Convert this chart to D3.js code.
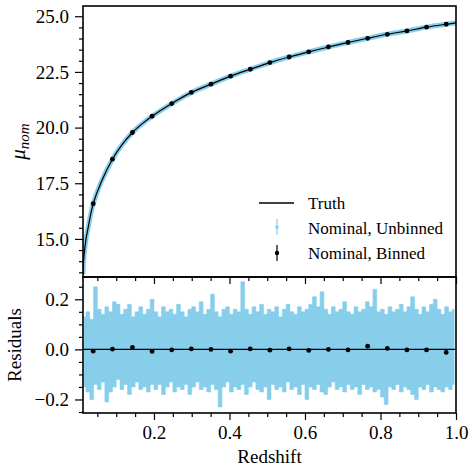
<!DOCTYPE html>
<html>
<head>
<meta charset="utf-8">
<script src="https://cdn.jsdelivr.net/npm/d3@7"></script>
<style>
  body { margin: 0; background: #fff; }
  text { font-family: "Liberation Serif", "DejaVu Serif", serif; fill: #000; }
</style>
</head>
<body>
<div id="chart"></div>
<script>
// truth curve
const truthZ  = [0.012, 0.0137, 0.02, 0.025, 0.03, 0.039, 0.06, 0.09, 0.115, 0.143, 0.17, 0.195, 0.247, 0.299, 0.351, 0.403, 0.455, 0.507, 0.558, 0.61, 0.662, 0.714, 0.766, 0.818, 0.87, 0.922, 0.974, 1.0];
const truthMu = [13.4, 14.05, 15.0, 15.45, 15.9, 16.58, 17.55, 18.58, 19.22, 19.78, 20.19, 20.51, 21.08, 21.58, 21.95, 22.31, 22.62, 22.92, 23.17, 23.40, 23.62, 23.82, 24.01, 24.19, 24.34, 24.51, 24.64, 24.7];

// binned points
const binZ   = [0.039, 0.09, 0.143, 0.195, 0.247, 0.299, 0.351, 0.403, 0.455, 0.507, 0.558, 0.61, 0.662, 0.714, 0.766, 0.818, 0.87, 0.922, 0.974];
const binMu  = [16.58, 18.58, 19.78, 20.51, 21.08, 21.58, 21.95, 22.31, 22.62, 22.92, 23.17, 23.40, 23.62, 23.82, 24.01, 24.19, 24.34, 24.51, 24.64];
const binRes = [-0.007, 0.001, 0.008, -0.008, -0.002, 0.002, 0.0, -0.007, 0.002, -0.003, 0.002, -0.004, 0.0, -0.002, 0.013, 0.004, -0.002, -0.002, -0.012];
const binErr = [0.004, 0.004, 0.004, 0.004, 0.004, 0.004, 0.004, 0.004, 0.004, 0.004, 0.004, 0.004, 0.004, 0.004, 0.004, 0.004, 0.004, 0.004, 0.004];

// unbinned residual error bars, upper / lower tips read along the band
const unbZ  = [0.015, 0.025, 0.035, 0.045, 0.055, 0.065, 0.075, 0.085, 0.095, 0.105, 0.115, 0.125, 0.135, 0.145, 0.155, 0.165, 0.175, 0.185, 0.195, 0.205,
               0.215, 0.225, 0.235, 0.245, 0.255, 0.265, 0.275, 0.285, 0.295, 0.305, 0.315, 0.325, 0.335, 0.345, 0.355, 0.365, 0.375, 0.385, 0.395, 0.405,
               0.415, 0.425, 0.435, 0.445, 0.455, 0.465, 0.475, 0.485, 0.495, 0.505, 0.515, 0.525, 0.535, 0.545, 0.555, 0.565, 0.575, 0.585, 0.595, 0.605,
               0.615, 0.625, 0.635, 0.645, 0.655, 0.665, 0.675, 0.685, 0.695, 0.705, 0.715, 0.725, 0.735, 0.745, 0.755, 0.765, 0.775, 0.785, 0.795, 0.805,
               0.815, 0.825, 0.835, 0.845, 0.855, 0.865, 0.875, 0.885, 0.895, 0.905, 0.915, 0.925, 0.935, 0.945, 0.955, 0.965, 0.975, 0.985, 0.995];
const unbHi = [0.13, 0.15, 0.12, 0.25, 0.16, 0.14, 0.17, 0.15, 0.19, 0.18, 0.14, 0.16, 0.18, 0.13, 0.15, 0.17, 0.14, 0.16, 0.20, 0.15,
               0.13, 0.17, 0.15, 0.16, 0.14, 0.18, 0.15, 0.13, 0.16, 0.17, 0.15, 0.19, 0.14, 0.16, 0.22, 0.15, 0.13, 0.16, 0.17, 0.14,
               0.16, 0.15, 0.27, 0.16, 0.14, 0.17, 0.15, 0.18, 0.14, 0.16, 0.15, 0.17, 0.13, 0.16, 0.18, 0.15, 0.14, 0.17, 0.15, 0.16,
               0.18, 0.21, 0.17, 0.23, 0.16, 0.14, 0.17, 0.15, 0.16, 0.19, 0.15, 0.14, 0.17, 0.15, 0.16, 0.19, 0.17, 0.24, 0.15, 0.16,
               0.14, 0.17, 0.15, 0.16, 0.18, 0.15, 0.17, 0.21, 0.16, 0.14, 0.17, 0.15, 0.18, 0.20, 0.16, 0.14, 0.17, 0.15, 0.16];
const unbLo = [-0.15, -0.17, -0.20, -0.14, -0.16, -0.13, -0.21, -0.17, -0.15, -0.12, -0.16, -0.14, -0.18, -0.15, -0.13, -0.16, -0.15, -0.17, -0.14, -0.16,
               -0.14, -0.18, -0.15, -0.13, -0.17, -0.15, -0.16, -0.14, -0.18, -0.15, -0.13, -0.16, -0.15, -0.17, -0.14, -0.16, -0.23, -0.15, -0.13, -0.17,
               -0.15, -0.16, -0.14, -0.18, -0.15, -0.13, -0.16, -0.17, -0.15, -0.20, -0.14, -0.16, -0.15, -0.17, -0.13, -0.16, -0.15, -0.18, -0.14, -0.20,
               -0.15, -0.16, -0.14, -0.17, -0.18, -0.15, -0.13, -0.16, -0.15, -0.17, -0.14, -0.16, -0.15, -0.18, -0.14, -0.16, -0.15, -0.17, -0.16, -0.19,
               -0.22, -0.15, -0.16, -0.14, -0.17, -0.15, -0.16, -0.18, -0.20, -0.15, -0.16, -0.14, -0.17, -0.15, -0.16, -0.17, -0.15, -0.16, -0.14];

const xTicks = [0.2, 0.4, 0.6, 0.8, 1.0];
const muTicks = [15.0, 17.5, 20.0, 22.5, 25.0];
const resTicks = [-0.2, 0.0, 0.2];

const W = 474, H = 474;
const pL = 83, pR = 456, pT = 6, pM = 277, pB = 413;
const blue = "#87CEEB";

const svg = d3.select("#chart").append("svg")
  .attr("width", W).attr("height", H);

const x = d3.scaleLinear().domain([0.012, 1.0]).range([pL, pR]);
const yTop = d3.scaleLinear().domain([13.29, 25.46]).range([pM, pT]);
const yBot = d3.scaleLinear().domain([-0.254, 0.289]).range([pB, pM]);

const defs = svg.append("defs");
defs.append("clipPath").attr("id", "clipTop").append("rect")
  .attr("x", pL).attr("y", pT).attr("width", pR - pL).attr("height", pM - pT);
defs.append("clipPath").attr("id", "clipBot").append("rect")
  .attr("x", pL).attr("y", pM).attr("width", pR - pL).attr("height", pB - pM);

const truth = truthZ.map((z, i) => ({ z: z, mu: truthMu[i] }));
const bins = binZ.map((z, i) => ({ z: z, mu: binMu[i], r: binRes[i], e: binErr[i] }));
const unb = unbZ.map((z, i) => ({ z: z, hi: unbHi[i], lo: unbLo[i] }));

// ---- top panel
const gTop = svg.append("g").attr("clip-path", "url(#clipTop)");
const truthLine = d3.line().x(d => x(d.z)).y(d => yTop(d.mu)).curve(d3.curveCatmullRom.alpha(0.5));

// unbinned points hug the truth curve
gTop.append("path").datum(truth)
  .attr("d", truthLine)
  .attr("fill", "none").attr("stroke", blue).attr("stroke-width", 5);

gTop.append("path").datum(truth)
  .attr("d", truthLine)
  .attr("fill", "none").attr("stroke", "#000").attr("stroke-width", 1.2);

gTop.selectAll(".bintop").data(bins).enter().append("circle")
  .attr("class", "bintop")
  .attr("cx", d => x(d.z)).attr("cy", d => yTop(d.mu)).attr("r", 2.4).attr("fill", "#000");

// ---- bottom panel
const gBot = svg.append("g").attr("clip-path", "url(#clipBot)");
const band = d3.area()
  .x(d => x(d.z)).y0(d => yBot(d.lo)).y1(d => yBot(d.hi))
  .curve(d3.curveStep);
gBot.append("path").datum(unb)
  .attr("d", band)
  .attr("fill", blue).attr("stroke", blue).attr("stroke-width", 0.6);

gBot.append("line")
  .attr("x1", pL).attr("x2", pR)
  .attr("y1", yBot(0)).attr("y2", yBot(0))
  .attr("stroke", "#000").attr("stroke-width", 1.2);

gBot.selectAll(".binerr").data(bins).enter().append("line")
  .attr("x1", d => x(d.z)).attr("x2", d => x(d.z))
  .attr("y1", d => yBot(d.r - d.e)).attr("y2", d => yBot(d.r + d.e))
  .attr("stroke", "#000").attr("stroke-width", 1.2);

gBot.selectAll(".binbot").data(bins).enter().append("circle")
  .attr("class", "binbot")
  .attr("cx", d => x(d.z)).attr("cy", d => yBot(d.r)).attr("r", 2.4).attr("fill", "#000");

// ---- axes
function styleAxis(g) {
  g.select(".domain").remove();
  g.selectAll(".tick line").attr("stroke", "#000").attr("stroke-width", 1.2);
  g.selectAll(".tick text").style("font-size", "19px");
}
const minorX = d3.range(0.05, 1.0001, 0.05).filter(v => Math.abs(v * 5 - Math.round(v * 5)) > 1e-6);

// top panel x ticks (no labels)
svg.append("g").attr("transform", `translate(0,${pM})`)
  .call(d3.axisBottom(x).tickValues(xTicks).tickSize(7).tickFormat(""))
  .call(styleAxis);
svg.append("g").attr("transform", `translate(0,${pM})`)
  .call(d3.axisBottom(x).tickValues(minorX).tickSize(4).tickFormat(""))
  .call(styleAxis);

// bottom x axis
svg.append("g").attr("transform", `translate(0,${pB})`)
  .call(d3.axisBottom(x).tickValues(xTicks).tickSize(7).tickPadding(6).tickFormat(d3.format(".1f")))
  .call(styleAxis);
svg.append("g").attr("transform", `translate(0,${pB})`)
  .call(d3.axisBottom(x).tickValues(minorX).tickSize(4).tickFormat(""))
  .call(styleAxis);

// top y axis
const minorMu = d3.range(13.5, 25.46, 0.5).filter(v => Math.abs(v / 2.5 - Math.round(v / 2.5)) > 1e-6);
svg.append("g").attr("transform", `translate(${pL},0)`)
  .call(d3.axisLeft(yTop).tickValues(muTicks).tickSize(8).tickPadding(6).tickFormat(d3.format(".1f")))
  .call(styleAxis);
svg.append("g").attr("transform", `translate(${pL},0)`)
  .call(d3.axisLeft(yTop).tickValues(minorMu).tickSize(4).tickFormat(""))
  .call(styleAxis);

// bottom y axis
const minorRes = [-0.25, -0.15, -0.1, -0.05, 0.05, 0.1, 0.15, 0.25];
svg.append("g").attr("transform", `translate(${pL},0)`)
  .call(d3.axisLeft(yBot).tickValues(resTicks).tickSize(8).tickPadding(6)
    .tickFormat(d => d === 0 ? "0.0" : d3.format(".1f")(d)))
  .call(styleAxis);
svg.append("g").attr("transform", `translate(${pL},0)`)
  .call(d3.axisLeft(yBot).tickValues(minorRes).tickSize(4).tickFormat(""))
  .call(styleAxis);

// frames
svg.append("rect").attr("x", pL).attr("y", pT).attr("width", pR - pL).attr("height", pM - pT)
  .attr("fill", "none").attr("stroke", "#000").attr("stroke-width", 1.6);
svg.append("rect").attr("x", pL).attr("y", pM).attr("width", pR - pL).attr("height", pB - pM)
  .attr("fill", "none").attr("stroke", "#000").attr("stroke-width", 1.6);

// axis labels
svg.append("text").attr("x", (pL + pR) / 2).attr("y", 463)
  .attr("text-anchor", "middle").style("font-size", "19px").text("Redshift");

const muLab = svg.append("text")
  .attr("transform", `translate(25,${(pT + pM) / 2}) rotate(-90)`)
  .attr("text-anchor", "middle").style("font-size", "21px").style("font-style", "italic");
muLab.append("tspan").text("μ");
muLab.append("tspan").attr("dy", 4).style("font-size", "15px").text("nom");

svg.append("text")
  .attr("transform", `translate(21,${(pM + pB) / 2}) rotate(-90)`)
  .attr("text-anchor", "middle").style("font-size", "19px").text("Residuals");

// legend
const leg = svg.append("g");
leg.append("line").attr("x1", 259).attr("x2", 294).attr("y1", 203).attr("y2", 203)
  .attr("stroke", "#000").attr("stroke-width", 1.4);
leg.append("text").attr("x", 308).attr("y", 209).style("font-size", "17px").text("Truth");

leg.append("line").attr("x1", 277).attr("x2", 277).attr("y1", 219).attr("y2", 235)
  .attr("stroke", blue).attr("stroke-width", 1.2);
leg.append("circle").attr("cx", 277).attr("cy", 227).attr("r", 1.8).attr("fill", blue);
leg.append("text").attr("x", 308).attr("y", 234).style("font-size", "17px").text("Nominal, Unbinned");

leg.append("line").attr("x1", 277).attr("x2", 277).attr("y1", 245).attr("y2", 261)
  .attr("stroke", "#000").attr("stroke-width", 1.2);
leg.append("circle").attr("cx", 277).attr("cy", 253).attr("r", 2.2).attr("fill", "#000");
leg.append("text").attr("x", 308).attr("y", 259).style("font-size", "17px").text("Nominal, Binned");
</script>
</body>
</html>
